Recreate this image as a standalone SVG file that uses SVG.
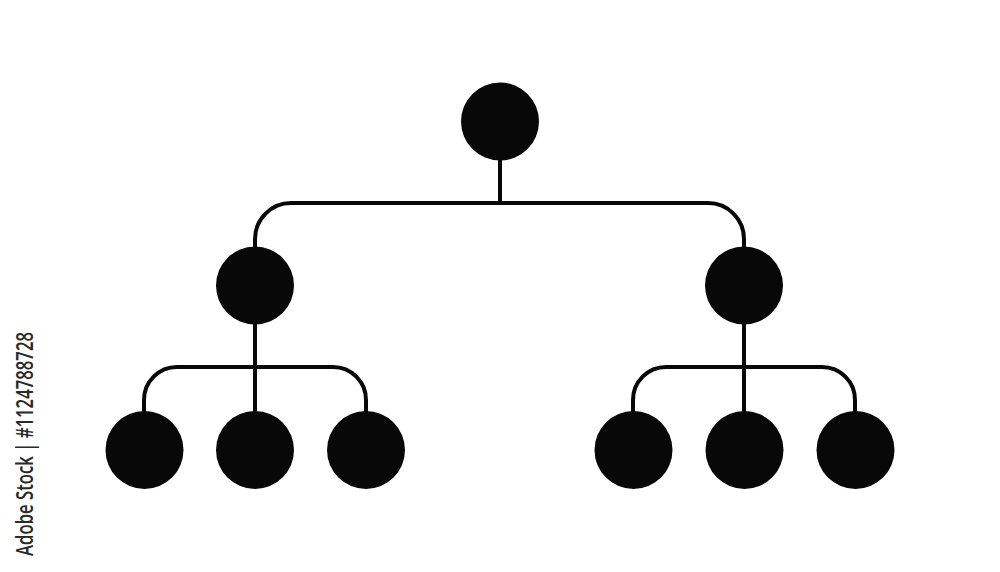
<svg xmlns="http://www.w3.org/2000/svg" width="1000" height="572" viewBox="0 0 1000 572">
<style>
.node{fill:#080808}
.conn{fill:none;stroke:#080808;stroke-width:4}
.credit{font-family:"Open Sans","DejaVu Sans",sans-serif;font-size:24px;font-weight:600;fill:#2a2a2a}
</style>
<rect width="1000" height="572" fill="#ffffff"/>
<g id="connectors">
<path class="conn" d="M500 160 V203"/>
<path class="conn" d="M255 247 V239 A36 36 0 0 1 291 203 H708 A36 36 0 0 1 744 239 V247"/>
<path class="conn" d="M255 324 V412"/>
<path class="conn" d="M144 412 V400 A33 33 0 0 1 177 367 H333 A33 33 0 0 1 366 400 V412"/>
<path class="conn" d="M744 324 V412"/>
<path class="conn" d="M633 412 V400 A33 33 0 0 1 666 367 H822 A33 33 0 0 1 855 400 V412"/>
</g>
<g id="root"><circle class="node" cx="500" cy="121.5" r="39"/></g>
<g id="mid-left"><circle class="node" cx="255" cy="285.5" r="39"/></g>
<g id="mid-right"><circle class="node" cx="744" cy="285.5" r="39"/></g>
<g id="leaf-l1"><circle class="node" cx="144.5" cy="450" r="39"/></g>
<g id="leaf-l2"><circle class="node" cx="255" cy="450" r="39"/></g>
<g id="leaf-l3"><circle class="node" cx="366" cy="450" r="39"/></g>
<g id="leaf-r1"><circle class="node" cx="633.5" cy="450" r="39"/></g>
<g id="leaf-r2"><circle class="node" cx="744.5" cy="450" r="39"/></g>
<g id="leaf-r3"><circle class="node" cx="855.5" cy="450" r="39"/></g>
<text class="credit" transform="translate(33,556) rotate(-90)" textLength="224" lengthAdjust="spacingAndGlyphs">Adobe Stock | #1124788728</text>
</svg>
